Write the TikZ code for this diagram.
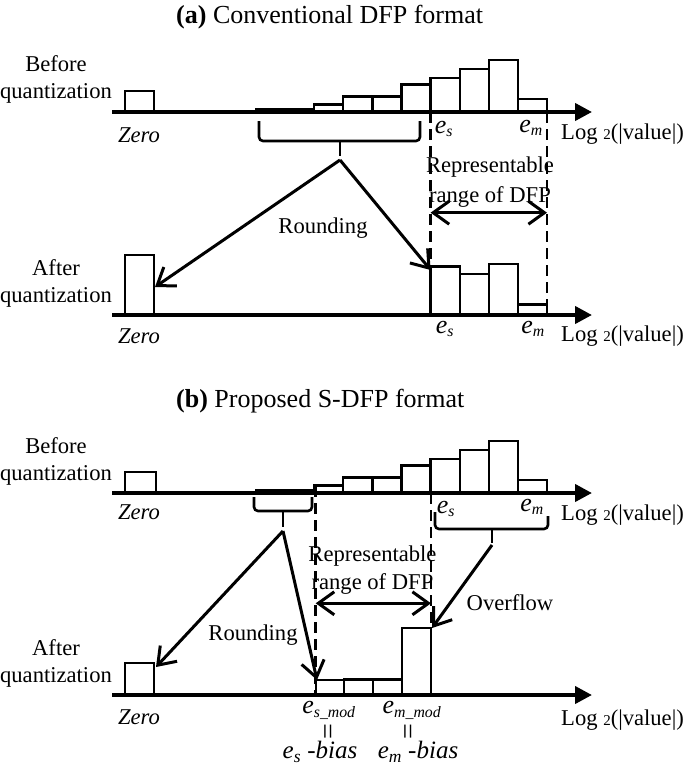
\documentclass[tikz,border=0pt]{standalone}
\usepackage{fontspec}
\setmainfont{Liberation Serif}
\usetikzlibrary{arrows.meta}
\newcommand{\bodyfs}{\fontsize{22.6}{27}\selectfont}
\newcommand{\ee}[1]{{\fontsize{26}{26}\selectfont\textit{e}}\textsubscript{\textit{#1}}}
\newcommand{\logtxt}{Log {\fontsize{15}{15}\selectfont 2}(|value|)}
\begin{document}
\begin{tikzpicture}[x=1pt,y=-1pt,
  bar/.style={draw=black, line width=2.3pt, fill=white},
  axisline/.style={line width=4pt, -{Triangle[length=17pt,width=17pt]}},
  arr/.style={line width=3pt, -{Straight Barb[length=16pt,width=23pt]}},
  darr/.style={line width=3pt, {Straight Barb[length=16pt,width=23pt]}-{Straight Barb[length=16pt,width=23pt]}},
  dline/.style={line width=2.6pt, dash pattern=on 11pt off 6pt},
  bracket/.style={line width=2.6pt, rounded corners=4pt},
  lbl/.style={font=\bodyfs, inner sep=0pt},
  ttl/.style={font=\fontsize{26}{30}\selectfont, inner sep=0pt},
]
\useasboundingbox (0,0) rectangle (685,768);

% ---------------- (a) ----------------
\node[ttl, anchor=west] (ttlA) at (176,17) {\textbf{(a)} Conventional DFP format};

% before histogram
\foreach \x/\h in {256/3.3, 285.1/3.3, 314.2/7.5, 343.3/15.5, 372.4/15.5, 401.5/27.5, 430.6/34, 459.7/43, 488.8/52, 517.9/13}
  \draw[bar] (\x,112) rectangle ++(29.1,-\h);
\draw[bar] (125,112) rectangle (154,91);
\coordinate (a1s) at (112,112);
\coordinate (a1e) at (592,112);
\draw[axisline] (a1s) -- (a1e);

% after histogram
\draw[bar] (125,315) rectangle (154,255);
\foreach \x/\h in {430.6/48.5, 459.7/41, 488.8/51, 517.9/10.5}
  \draw[bar] (\x,315) rectangle ++(29.1,-\h);
\coordinate (a2s) at (112,315);
\coordinate (a2e) at (592,315);
\draw[axisline] (a2s) -- (a2e);

% dashed range lines
\coordinate (esAt) at (430.6,112); \coordinate (esAb) at (430.6,315);
\coordinate (emAt) at (547,112);   \coordinate (emAb) at (547,315);
\draw[dline] (esAt) -- (esAb);
\draw[dline] (emAt) -- (emAb);

% bracket
\draw[bracket] (259,121) -- (259,141) -- (420,141) -- (420,121);
\coordinate (apexA) at (340,160);
\draw[line width=2.6pt] (340,141) -- (340,156);

% arrows
\coordinate (zeroAtip) at (155,287);
\coordinate (esAtip) at (430.6,270);
\draw[arr] (apexA) -- (zeroAtip);
\draw[arr] (apexA) -- (esAtip);
\coordinate (rA1) at (430.6,212.7);
\coordinate (rA2) at (547,212.7);
\draw[darr] (rA1) -- (rA2);

% labels
\node[lbl, align=center] (befA) at (56,79) {Before\\quantization};
\node[lbl, align=center] (aftA) at (56,283) {After\\quantization};
\node[lbl] (zeroA1) at (139,135) {\textit{Zero}};
\node[lbl] (zeroA2) at (139,336) {\textit{Zero}};
\node[lbl] (esA1) at (444,129) {\ee{s}};
\node[lbl] (emA1) at (531,128) {\ee{m}};
\node[lbl] (esA2) at (445,329) {\ee{s}};
\node[lbl] (emA2) at (533,329) {\ee{m}};
\node[lbl, anchor=west] (logA1) at (561,134) {\logtxt};
\node[lbl, anchor=west] (logA2) at (561,336) {\logtxt};
\node[lbl, align=center] (repA) at (490,182) {Representable\\[3pt]range of DFP};
\node[lbl] (rndA) at (323,228) {Rounding};

% ---------------- (b) ----------------
\node[ttl, anchor=west] (ttlB) at (176,401) {\textbf{(b)} Proposed S-DFP format};

\foreach \x/\h in {256/3.3, 285.1/3.3, 314.2/7.5, 343.3/15.5, 372.4/15.5, 401.5/27.5, 430.6/34, 459.7/43, 488.8/52, 517.9/13}
  \draw[bar] (\x,493) rectangle ++(29.1,-\h);
\draw[bar] (125,493) rectangle (156,472);
\coordinate (b1s) at (112,493);
\coordinate (b1e) at (592,493);
\draw[axisline] (b1s) -- (b1e);

\draw[bar] (125,695) rectangle (154,663);
\foreach \x/\h in {315.7/15, 344.3/15.5, 373.3/15.5}
  \draw[bar] (\x,695) rectangle ++(28.6,-\h);
\draw[bar] (401.7,695) rectangle (431,628.3);
\coordinate (b2s) at (112,695);
\coordinate (b2e) at (592,695);
\draw[axisline] (b2s) -- (b2e);

\coordinate (esBt) at (315.7,486); \coordinate (esBb) at (315.7,695);
\coordinate (emBt) at (431,493);   \coordinate (emBb) at (431,695);
\draw[dline] (esBt) -- (esBb);
\draw[dline] (emBt) -- (emBb);

% brackets
\draw[bracket] (254,497) -- (254,511) -- (312,511) -- (312,497);
\draw[line width=2.6pt] (283,511) -- (283,527);
\coordinate (apexB) at (283,531);
\draw[bracket] (435,512) -- (435,529) -- (548,529) -- (548,516);
\draw[line width=2.6pt] (492,529) -- (492,543);
\coordinate (apexO) at (492,545);

% arrows
\coordinate (zeroBtip) at (156,667);
\coordinate (esBtip) at (317,680);
\coordinate (ovBtip) at (432,628);
\draw[arr] (apexB) -- (zeroBtip);
\draw[arr] (apexB) -- (esBtip);
\draw[arr] (apexO) -- (ovBtip);
\coordinate (rB1) at (315.7,603.3);
\coordinate (rB2) at (431,603.3);
\draw[darr] (rB1) -- (rB2);

% labels
\node[lbl, align=center] (befB) at (56,461) {Before\\quantization};
\node[lbl, align=center] (aftB) at (56,663) {After\\quantization};
\node[lbl] (zeroB1) at (139,512) {\textit{Zero}};
\node[lbl] (zeroB2) at (139,717) {\textit{Zero}};
\node[lbl] (esB1) at (446,509) {\ee{s}};
\node[lbl] (emB1) at (532,507) {\ee{m}};
\node[lbl, anchor=west] (logB1) at (561,515) {\logtxt};
\node[lbl, anchor=west] (logB2) at (561,720) {\logtxt};
\node[lbl, align=center] (repB) at (372.5,570) {Representable\\[1pt]range of DFP};
\node[lbl] (rndB) at (253,635) {Rounding};
\node[lbl] (ovB) at (510,603) {Overflow};
\node[lbl] (esmod) at (329,710) {\ee{s\_mod}};
\node[lbl] (emmod) at (412,710) {\ee{m\_mod}};
\node[lbl, rotate=90, font=\fontsize{28}{28}\selectfont] (eq1) at (331,732) {=};
\node[lbl, rotate=90, font=\fontsize{28}{28}\selectfont] (eq2) at (411,732) {=};
\node[lbl, font=\fontsize{25}{30}\selectfont] (esbias) at (320,752) {\textit{e}\textsubscript{\textit{s}} \textit{-bias}};
\node[lbl, font=\fontsize{25}{30}\selectfont] (embias) at (418,752) {\textit{e}\textsubscript{\textit{m}} \textit{-bias}};
\end{tikzpicture}
\end{document}
